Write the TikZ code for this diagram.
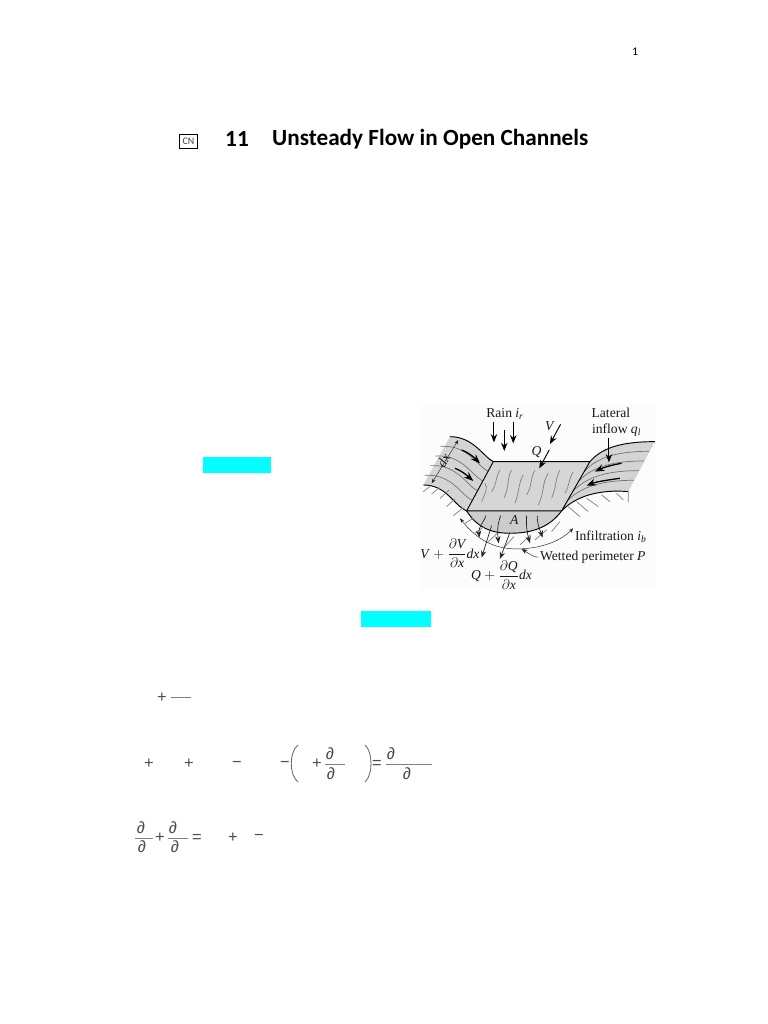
\documentclass[tikz,border=0pt]{standalone}
\usepackage{amssymb}
\usepackage{amsmath}
\usepackage{fontspec}
\setmainfont{Carlito}
\newfontfamily\figfont{Liberation Serif}
\newfontfamily\eqfont{Liberation Sans}
\usetikzlibrary{arrows.meta}
\definecolor{markcyan}{RGB}{0,255,255}
\tikzset{
  flowarrow/.style={black, thick, -{Stealth[length=7pt,width=5.5pt]}},
  inflowarrow/.style={black, line width=1.1pt, -{Stealth[length=8pt,width=6pt]}},
  seeparrow/.style={black!85, semithick, -{Stealth[length=6pt,width=4.5pt]}},
  dimarrow/.style={black!85, {Stealth[length=4pt,width=3pt]}-{Stealth[length=4pt,width=3pt]}},
  bankline/.style={black!55, semithick},
  rippleline/.style={black!50, semithick},
  hatchline/.style={black!50, semithick},
  figlabel/.style={inner sep=0pt, text=black!90, font=\figfont\fontsize{11.6}{13}\selectfont},
  eqsign/.style={inner sep=0pt, text=black!70, font=\eqfont\fontsize{14}{16}\selectfont},
  eqpartial/.style={inner sep=0pt, text=black!70, font=\eqfont\itshape\fontsize{14}{16}\selectfont},
  eqbar/.style={black!50, line width=.8pt},
  cyanbar/.style={fill=markcyan, draw=none}
}
\begin{document}
\begin{tikzpicture}[x=.03cm, y=-.03cm]
\useasboundingbox (0,0) rectangle (768,1024);
\fill[white] (0,0) rectangle (768,1024);
% heading
\node[inner sep=0pt, font=\fontsize{10}{12}\selectfont] (pageno) at (635,52) {1};
\node[draw, line width=.5pt, minimum width=.54cm, minimum height=.43cm, inner sep=0pt, text=black!75, font=\fontsize{8.5}{10}\selectfont] (cnbox) at (188.5,141.5) {CN};
\node[inner sep=0pt, font=\bfseries\fontsize{19.8}{22}\selectfont] (chapno) at (237,138.5) {11};
\node[inner sep=0pt, anchor=west, font=\bfseries\fontsize{19.8}{22}\selectfont] (title) at (272,139) {Unsteady Flow in Open Channels};
% highlighted blanks
\fill[cyanbar] (203,457) rectangle (271,473);
\fill[cyanbar] (361,611) rectangle (431,627);
% channel sketch
\fill[black!1] (420,405) rectangle (655,590);
\begin{scope}[shift={(410,395)}, x=.01cm, y=-.01cm]
% left bank
\fill[black!17] (120,125) .. controls (190,125) and (220,185) .. (250,200) -- (170,348) .. controls (130,330) and (110,270) .. (40,270) -- cycle;
\draw[bankline] (92,154) -- (104,154) .. controls (174,154) and (204,214) .. (234,229);
\draw[bankline] (76,183) -- (88,183) .. controls (158,183) and (188,243) .. (218,258);
\draw[bankline] (60,212) -- (72,212) .. controls (142,212) and (172,272) .. (202,287);
\draw[bankline] (44,241) -- (56,241) .. controls (126,241) and (156,301) .. (186,316);
\draw[black, thick] (120,125) .. controls (190,125) and (220,185) .. (250,200);
\draw[black, thick] (170,348) .. controls (130,330) and (110,270) .. (40,270);
% right bank
\fill[black!17] (540,200) .. controls (575,160) and (630,140) .. (735,140) -- (655,290) .. controls (600,285) and (510,290) .. (455,348) -- cycle;
\draw[bankline] (523,230) .. controls (562,186) and (624,169) .. (718,169);
\draw[bankline] (506,259) .. controls (549,212) and (618,198) .. (703,198);
\draw[bankline] (489,289) .. controls (536,238) and (612,227) .. (688,227);
\draw[bankline] (472,318) .. controls (523,264) and (606,256) .. (672,256);
\draw[black, thick] (540,200) .. controls (575,160) and (630,140) .. (735,140);
\draw[black, thick] (455,348) .. controls (510,290) and (600,285) .. (655,290);
% water surface and wetted section
\fill[black!16] (250,200) -- (540,200) -- (455,348) -- (170,348) -- cycle;
\fill[black!20] (170,348) -- (455,348) .. controls (420,395) and (370,415) .. (300,415) .. controls (240,415) and (200,395) .. (170,348);
\draw[black, thick] (170,348) -- (250,200) -- (540,200) -- (455,348) -- cycle;
\draw[black, thick] (170,348) .. controls (200,395) and (240,415) .. (300,415) .. controls (370,415) and (420,395) .. (455,348);
% ripples
\draw[rippleline] (270,225) .. controls (255,250) and (262,265) .. (245,290);
\draw[rippleline] (305,225) .. controls (290,250) and (300,270) .. (282,310);
\draw[rippleline] (340,240) .. controls (325,265) and (330,285) .. (315,325);
\draw[rippleline] (375,225) .. controls (360,250) and (368,270) .. (350,300);
\draw[rippleline] (415,235) .. controls (395,265) and (405,290) .. (385,330);
\draw[rippleline] (450,225) .. controls (435,255) and (440,275) .. (425,310);
\draw[rippleline] (490,230) .. controls (475,255) and (480,270) .. (465,295);
\draw[rippleline] (225,265) .. controls (235,280) and (225,295) .. (215,320);
% ground hatching
\draw[hatchline] (40,290) -- (60,275) (65,297) -- (88,278) (90,310) -- (118,285) (110,335) -- (135,312) (130,362) -- (158,340);
\draw[hatchline] (165,385) -- (190,370) (195,415) -- (222,395) (235,440) -- (262,415) (285,455) -- (312,425) (330,450) -- (362,420) (375,435) -- (410,405) (425,410) -- (450,380);
\draw[hatchline] (475,335) -- (510,365) (500,320) -- (535,350) (530,310) -- (565,335) (575,300) -- (600,320) (620,295) -- (640,315) (655,290) -- (655,322);
% wetted perimeter
\draw[dimarrow] (150,370) .. controls (205,440) and (260,462) .. (320,462) .. controls (390,462) and (450,440) .. (490,400);
% dx
\draw[dimarrow] (145,135) -- (65,265);
\node[figlabel, rotate=60] (dxlabel) at (101,197) {\itshape dx};
% rain and inflow
\draw[flowarrow] (252,80) -- (252,142);
\draw[flowarrow] (283,105) -- (283,168);
\draw[flowarrow] (310,80) -- (310,145);
\draw[flowarrow, thick] (452,88) -- (420,147);
\draw[flowarrow] (418,165) -- (388,220);
\draw[flowarrow] (597,130) -- (597,202);
\draw[inflowarrow] (155,165) .. controls (180,175) and (195,190) .. (210,205);
\draw[inflowarrow] (135,220) .. controls (160,230) and (175,245) .. (190,258);
\draw[inflowarrow] (635,205) .. controls (605,210) and (580,218) .. (555,230);
\draw[inflowarrow] (630,250) .. controls (595,255) and (560,260) .. (530,272);
% seepage below the section
\draw[seeparrow] (228,362) .. controls (220,385) and (205,395) .. (208,428);
\draw[seeparrow] (272,362) .. controls (262,390) and (262,410) .. (266,445);
\draw[seeparrow] (350,362) .. controls (348,395) and (352,415) .. (360,445);
\draw[seeparrow] (382,362) .. controls (382,390) and (390,405) .. (398,428);
\draw[seeparrow] (245,392) -- (215,488);
\draw[seeparrow] (300,412) -- (270,492);
\draw[black!85, -{Stealth[length=5pt,width=4pt]}] (385,487) .. controls (370,487) and (355,475) .. (335,462);
% labels
\node[figlabel] (rainlabel) at (285,57) {Rain \textit{i}$_{\textit{r}}$};
\node[figlabel] (laterallabel) at (603,55) {Lateral};
\node[figlabel] (inflowlabel) at (620,105) {inflow \textit{q}$_{\textit{l}}$};
\node[figlabel] (vlabel) at (418,92) {\itshape V};
\node[figlabel] (qlabel) at (380,170) {\itshape Q};
\node[figlabel] (alabel) at (313,375) {\itshape A};
\node[figlabel, anchor=west] (infillabel) at (495,425) {Infiltration \textit{i}$_{\textit{b}}$};
\node[figlabel, anchor=west] (wettedlabel) at (390,488) {Wetted perimeter \textit{P}};
\node[figlabel] (vdxlabel) at (120,475) {\textit{V} $+$ $\dfrac{\partial\textit{V}}{\partial\textit{x}}$\textit{dx}};
\node[figlabel] (qdxlabel) at (275,540) {\textit{Q} $+$ $\dfrac{\partial\textit{Q}}{\partial\textit{x}}$\textit{dx}};
\end{scope}
% first equation
\node[eqsign] (plusa) at (162,698) {+};
\draw[eqbar] (171,697) -- (191,697);
% second equation
\node[eqsign] (plusb) at (149,764) {+};
\node[eqsign] (plusc) at (189,764) {+};
\node[eqsign] (minusa) at (237,764) {−};
\node[eqsign] (minusb) at (285,764) {−};
\draw[black!60, line width=.7pt] (298,745) .. controls (289,752) and (289,775) .. (298,782);
\node[eqsign] (plusd) at (317,764) {+};
\node[eqpartial] (dela) at (330,754) {∂};
\draw[eqbar] (325,764) -- (345,764);
\node[eqpartial] (delb) at (331,774) {∂};
\draw[black!60, line width=.7pt] (365,745) .. controls (373,752) and (373,775) .. (365,782);
\node[eqsign] (eqa) at (377,764) {=};
\node[eqpartial] (delc) at (391,754) {∂};
\draw[eqbar] (386,764) -- (432,764);
\node[eqpartial] (deld) at (407,774) {∂};
% third equation
\node[eqpartial] (dele) at (141,828) {∂};
\draw[eqbar] (135,838) -- (153,838);
\node[eqpartial] (delf) at (142,847) {∂};
\node[eqsign] (pluse) at (160,838) {+};
\node[eqpartial] (delg) at (173,828) {∂};
\draw[eqbar] (168,838) -- (188,838);
\node[eqpartial] (delh) at (175,847) {∂};
\node[eqsign] (eqb) at (197,838) {=};
\node[eqsign] (plusf) at (233,838) {+};
\node[eqsign] (minusc) at (259,837) {−};
\end{tikzpicture}
\end{document}
